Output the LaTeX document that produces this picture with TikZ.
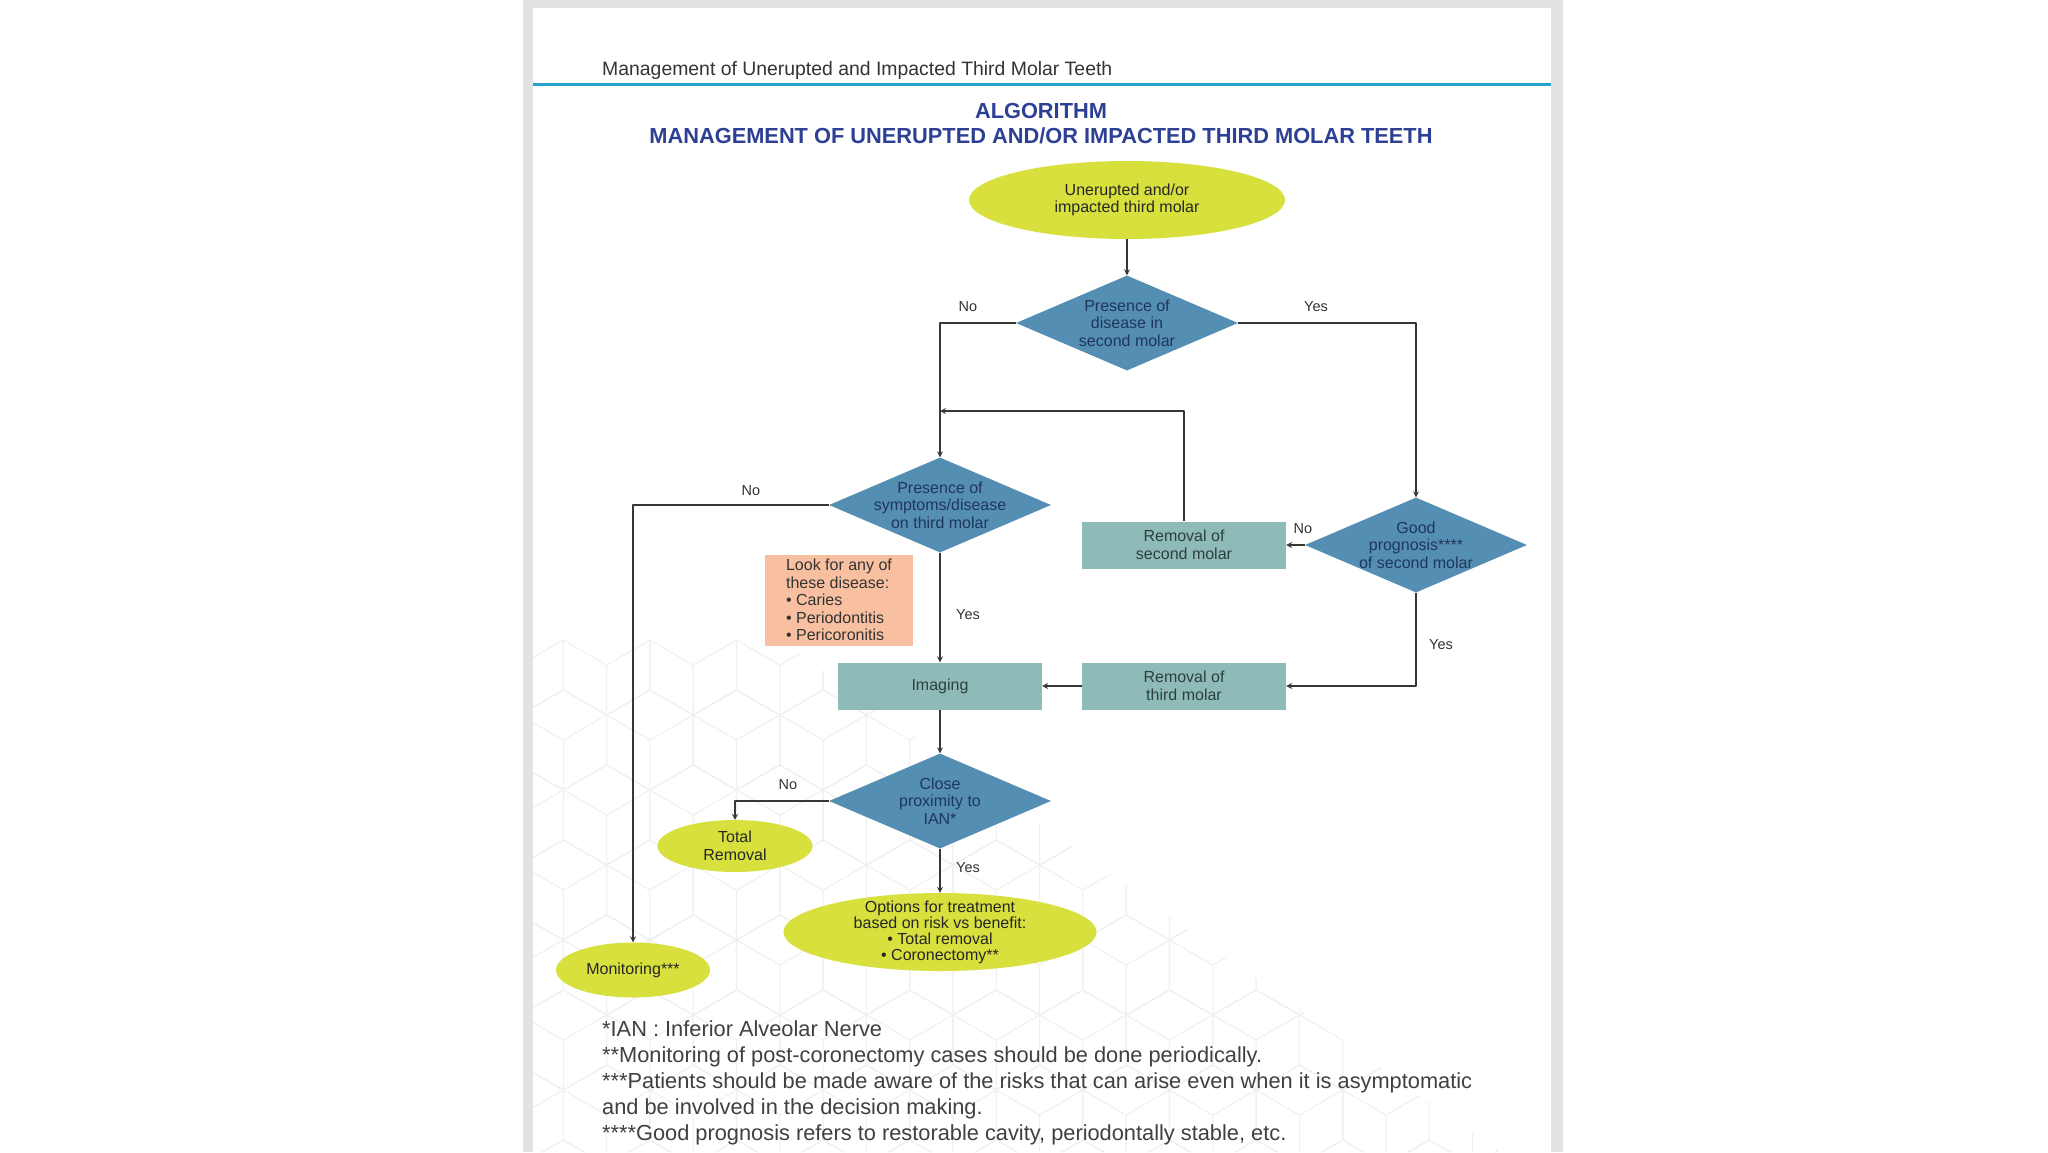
\documentclass[tikz,border=0pt]{standalone}
\usepackage{fontspec}
\setmainfont{Liberation Sans}
\usetikzlibrary{shapes.geometric,positioning}
\definecolor{termfill}{RGB}{216,224,62}
\definecolor{askfill}{RGB}{84,142,178}
\definecolor{boxfill}{RGB}{142,187,183}
\definecolor{notefill}{RGB}{248,192,160}
\definecolor{titleblue}{RGB}{46,64,148}
\definecolor{rulecyan}{RGB}{38,162,208}
\definecolor{asktext}{RGB}{32,54,92}
\definecolor{boxtext}{RGB}{44,64,64}
\definecolor{wire}{RGB}{55,55,55}
\definecolor{frame}{RGB}{226,226,226}
\newcommand{\nodefont}{\fontsize{16}{17.5}\selectfont}
\begin{document}
\begin{tikzpicture}[x=1pt, y=-1pt, line join=round, >=stealth,
  term/.style={ellipse, fill=termfill, inner sep=-6pt, align=center, font=\nodefont, text=black!85},
  decision/.style={diamond, aspect=2.4, fill=askfill, minimum width=222, minimum height=95, inner sep=-14pt, align=center, font=\nodefont, text=asktext},
  action/.style={rectangle, fill=boxfill, minimum width=204, minimum height=47, align=center, font=\nodefont, text=boxtext},
  flow/.style={->, draw=wire, line width=1.6pt},
  tag/.style={font=\fontsize{14.5}{16}\selectfont, text=black!80},
  foot/.style={font=\fontsize{21.8}{26}\selectfont, text=black!75, anchor=base west, inner sep=0}]
\useasboundingbox (0,0) rectangle (2048,1152);
% page
\fill[frame] (523,0) rectangle (1563,1152);
\fill[white] (533,8) rectangle (1551,1152);
\begin{scope}
\clip (533,640) -- (780,640) -- (1500,1152) -- (533,1152) -- cycle;
\foreach \i in {0,...,11} \foreach \j in {0,...,7} {
  \pgfmathsetmacro\hx{520+\i*86.6+mod(\j,2)*43.3}
  \pgfmathsetmacro\hy{665+\j*75}
  \draw[black!6, line width=1.1pt] (\hx,\hy) +(30:50) -- +(90:50) -- +(150:50) -- +(210:50) -- +(270:50) -- +(330:50) -- cycle
    (\hx,\hy) -- +(90:50) (\hx,\hy) -- +(210:50) (\hx,\hy) -- +(330:50);
}
\end{scope}
% header
\node[anchor=base west, inner sep=0, font=\fontsize{19.4}{21}\selectfont, text=black!80] (head) at (602,75.5) {Management of Unerupted and Impacted Third Molar Teeth};
\fill[rulecyan] (533,82.5) rectangle (1551,85.5);
\node[anchor=base, inner sep=0, font=\fontsize{21.8}{24}\bfseries, text=titleblue] (alg) at (1041,118.5) {ALGORITHM};
\node[anchor=base, inner sep=0, font=\fontsize{21.8}{24}\bfseries, text=titleblue] (title) at (1041,143.5) {MANAGEMENT OF UNERUPTED AND/OR IMPACTED THIRD MOLAR TEETH};
% flowchart
\node[term, minimum width=316, minimum height=78] (start) at (1127,200) {Unerupted and/or\\impacted third molar};
\node[decision] (d1) at (1127,323) {Presence of\\disease in\\second molar};
\node[decision] (d2) at (940,505) {Presence of\\symptoms/disease\\on third molar};
\node[decision] (d3) at (1416,545) {Good\\prognosis****\\of second molar};
\node[action] (rem2) at (1184,545) {Removal of\\second molar};
\node[rectangle, fill=notefill, minimum width=148, minimum height=91, align=left, font=\nodefont, text=black!80] (look) at (839,600) {Look for any of\\these disease:\\\textbullet\ Caries\\\textbullet\ Periodontitis\\\textbullet\ Pericoronitis};
\node[action] (img) at (940,686) {Imaging};
\node[action] (rem3) at (1184,686) {Removal of\\third molar};
\node[decision] (d4) at (940,801) {Close\\proximity to\\IAN*};
\node[term, minimum width=155, minimum height=52] (total) at (735,846) {Total\\Removal};
\node[term, minimum width=313, minimum height=78, font=\fontsize{16}{16}\selectfont] (opt) at (940,932) {Options for treatment\\based on risk vs benefit:\\\textbullet\ Total removal\\\textbullet\ Coronectomy**};
\node[term, minimum width=154, minimum height=55] (mon) at (633,970) {Monitoring***};
\coordinate (merge) at (940,411);
\draw[flow] (start) -- (d1);
\draw[flow] (d1.west) -| (d2.north);
\draw[flow] (d1.east) -| (d3.north);
\draw[flow] (d3.west) -- (rem2.east);
\draw[flow] (rem2.north) |- (merge);
\draw[flow] (d2.west) -| (mon.north);
\draw[flow] (d2.south) -- (img.north);
\draw[flow] (d3.south) |- (rem3.east);
\draw[flow] (rem3.west) -- (img.east);
\draw[flow] (img.south) -- (d4.north);
\draw[flow] (d4.west) -| (total.north);
\draw[flow] (d4.south) -- (opt.north);
\node[tag] (no1) at (968,307) {No};
\node[tag] (yes1) at (1316,307) {Yes};
\node[tag] (no2) at (751,491) {No};
\node[tag] (no3) at (1303,529) {No};
\node[tag] (yes2) at (968,615) {Yes};
\node[tag] (yes3) at (1441,645) {Yes};
\node[tag] (no4) at (788,785) {No};
\node[tag] (yes4) at (968,868) {Yes};
% notes
\foreach \t [count=\k] in {{*IAN : Inferior Alveolar Nerve},
  {**Monitoring of post-coronectomy cases should be done periodically.},
  {***Patients should be made aware of the risks that can arise even when it is asymptomatic},
  {and be involved in the decision making.},
  {****Good prognosis refers to restorable cavity, periodontally stable, etc.}}
  \node[foot] (foot\k) at (602,1010+26*\k) {\t};
\end{tikzpicture}
\end{document}
